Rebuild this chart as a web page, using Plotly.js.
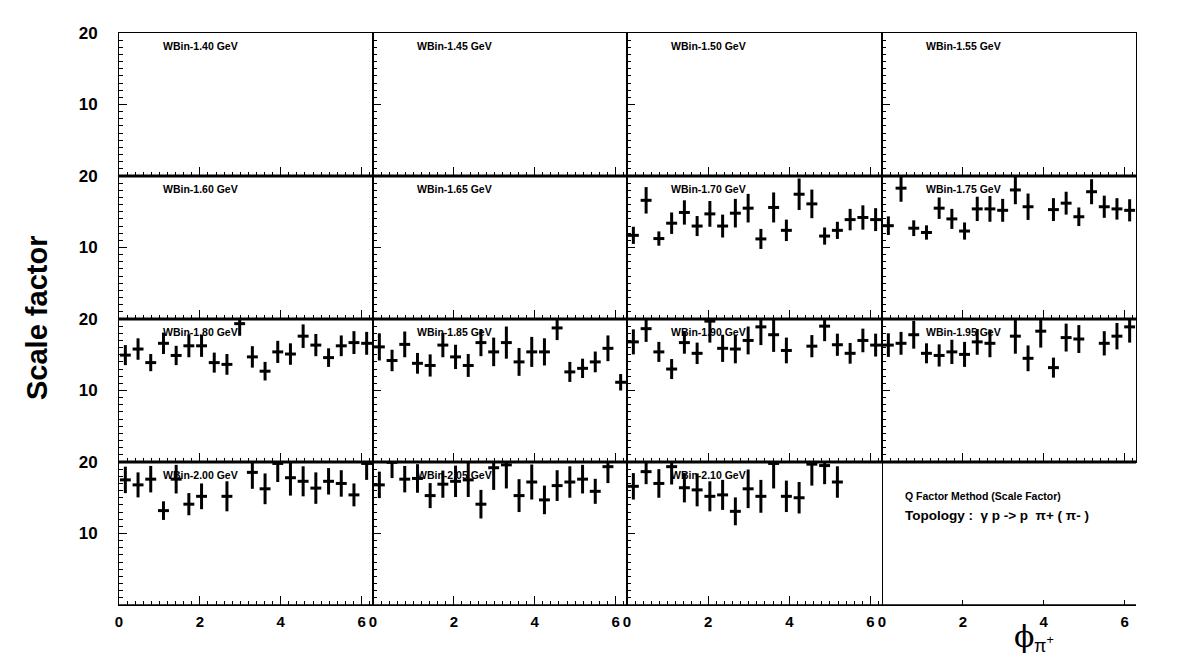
<!DOCTYPE html>
<html><head><meta charset="utf-8">
<script src="https://cdn.plot.ly/plotly-3.0.1.min.js"></script>
<style>html,body{margin:0;padding:0;background:#fff}#chart{width:1196px;height:672px}</style>
</head><body><div id="chart"></div>
<script>
// phi bin centres (20 bins over 0..2pi)
const phiBins = [0.157,0.471,0.785,1.100,1.414,1.728,2.042,2.356,2.670,2.985,3.299,3.613,3.927,4.241,4.555,4.869,5.184,5.498,5.812,6.126];
const wBinLabels = ['1.40','1.45','1.50','1.55','1.60','1.65','1.70','1.75','1.80','1.85','1.90','1.95','2.00','2.05','2.10'];
const xTickVals = [0,2,4,6];
const yTickVals = [10,20];

const sf170 = [11.7,16.6,11.25,13.4,14.9,13.0,14.7,13.0,14.8,15.5,11.2,15.6,12.4,17.45,16.1,11.6,12.4,13.9,14.2,13.9];
const er170 = [1.2,1.85,1.0,1.5,1.7,1.4,1.8,1.6,2.0,2.0,1.4,2.1,1.5,2.2,2.0,1.2,1.2,1.5,1.7,1.6];
const sf175 = [13.05,18.3,12.7,12.1,15.5,14.0,12.3,15.4,15.4,15.2,18.05,15.7,null,15.3,16.2,14.3,17.8,15.7,15.4,15.2];
const er175 = [1.3,1.9,1.1,1.0,1.5,1.4,1.2,1.7,1.8,1.6,2.0,1.85,null,1.6,1.6,1.3,1.75,1.55,1.5,1.55];
const sf180 = [14.95,15.8,13.9,16.6,14.9,16.25,16.25,13.9,13.65,19.35,14.7,12.7,15.4,15.1,17.6,16.35,14.6,16.25,16.7,16.6];
const er180 = [1.4,1.5,1.2,1.5,1.35,1.6,1.55,1.4,1.45,1.7,1.5,1.3,1.55,1.5,1.65,1.55,1.3,1.45,1.6,1.6];
const sf185 = [16.1,14.2,16.45,13.8,13.5,16.35,14.7,13.5,16.7,15.4,16.7,14.0,15.4,15.4,18.75,12.6,13.1,14.0,15.9,11.15];
const er185 = [1.9,1.5,1.8,1.45,1.55,1.7,1.7,1.6,1.9,2.0,2.25,1.95,2.1,1.9,1.7,1.4,1.35,1.45,1.8,1.15];
const sf190 = [16.8,18.65,15.4,13.0,16.7,15.2,19.7,15.9,15.8,17.0,18.9,17.8,15.6,null,16.2,19.0,16.4,15.2,17.0,16.35];
const er190 = [1.75,1.85,1.4,1.4,1.55,1.5,3.0,1.9,2.0,1.95,2.55,2.4,1.8,null,1.55,2.1,1.55,1.45,1.65,1.6];
const sf195 = [16.35,16.6,17.8,15.2,14.9,15.4,15.05,16.8,16.6,null,17.6,14.5,18.3,13.2,17.4,17.2,null,16.6,17.6,18.9];
const er195 = [1.65,1.6,1.95,1.4,1.55,1.7,1.75,1.8,1.95,null,2.45,1.8,2.3,1.4,1.95,1.95,null,1.7,1.85,2.2];
const sf200 = [17.5,16.8,17.6,13.2,17.6,14.1,15.2,null,15.2,null,18.55,16.25,19.8,17.8,17.3,16.35,17.3,17.0,15.4,19.8];
const er200 = [1.85,1.75,1.85,1.3,2.0,1.55,1.8,null,2.1,null,2.3,2.15,2.6,2.5,2.1,2.2,1.85,1.85,1.6,2.3];
const sf205 = [16.8,19.95,17.6,17.7,15.3,16.9,17.3,17.5,14.1,19.2,19.6,15.3,17.2,14.7,16.7,17.2,17.6,15.9,19.35,null];
const er205 = [1.85,2.2,1.85,2.0,1.75,1.9,2.2,2.4,2.0,3.1,3.3,2.3,2.45,2.0,2.15,2.2,2.0,1.75,2.3,null];
const sf210 = [16.6,18.65,17.0,19.35,16.4,16.1,15.2,15.4,13.1,16.25,15.2,19.8,15.2,15.0,19.7,19.5,17.2,null,null,null];
const er210 = [1.85,1.75,2.0,2.5,2.05,2.3,2.1,2.1,1.95,2.7,2.3,3.5,2.2,2.2,3.0,2.6,2.2,null,null,null];

const seriesByBin = {
  '1.70':[sf170,er170],'1.75':[sf175,er175],'1.80':[sf180,er180],'1.85':[sf185,er185],
  '1.90':[sf190,er190],'1.95':[sf195,er195],'2.00':[sf200,er200],'2.05':[sf205,er205],'2.10':[sf210,er210]
};

const W = 1196, H = 672;
const colL = [119,373,627,882], colR = [373,627,882,1136];
const rowT = [33,176,319,462], rowB = [176,319,462,605];
const px = v => v / W, py = v => 1 - v / H;
const halfBinDraw = 0.135;
const FONT = 'Liberation Sans, Arial, sans-serif';

const traces = [];
const layout = {
  width: W, height: H, margin: {l:0,r:0,t:0,b:0},
  paper_bgcolor: '#fff', plot_bgcolor: 'rgba(0,0,0,0)', showlegend: false,
  annotations: [], shapes: []
};

for (let i = 0; i < 16; i++) {
  const r = Math.floor(i / 4), c = i % 4;
  const n = i + 1, sx = n === 1 ? '' : String(n);
  const isPanel = i < 15;
  const bottomRow = (r === 3);
  layout['xaxis' + sx] = {
    domain: [px(colL[c]), px(colR[c])], anchor: 'y' + sx, range: [0, 2 * Math.PI],
    showgrid: false, zeroline: false, showline: true, linecolor: '#000', linewidth: 1,
    mirror: isPanel, ticks: 'inside', tickvals: xTickVals, ticklen: isPanel ? 9 : 5, tickwidth: 1, tickcolor: '#000',
    minor: isPanel ? {ticks: 'inside', dtick: 0.2, ticklen: 4, tickcolor: '#000', tickwidth: 1} : {ticks: ''},
    showticklabels: bottomRow, ticklabelstandoff: 3,
    tickfont: {family: 'Liberation Sans Narrow, ' + FONT, size: 15, color: '#000', weight: 'bold'}
  };
  layout['yaxis' + sx] = {
    domain: [py(rowB[r]), py(rowT[r])], anchor: 'x' + sx, range: [0, 20],
    showgrid: false, zeroline: false, showline: isPanel, linecolor: '#000', linewidth: 1, mirror: isPanel,
    ticks: isPanel ? 'inside' : '', tickvals: yTickVals, ticklen: 8, tickwidth: 1, tickcolor: '#000',
    minor: isPanel ? {ticks: 'inside', dtick: 1, ticklen: 4, tickcolor: '#000', tickwidth: 1} : {ticks: ''},
    showticklabels: c === 0, ticklabelstandoff: 17,
    tickfont: {family: FONT, size: 17, color: '#000', weight: 'bold'}
  };
  const lbl = isPanel ? wBinLabels[i] : null;
  if (isPanel) {
    layout.annotations.push({
      xref: 'paper', yref: 'paper', x: px(colL[c] + 42), y: py(rowT[r] + 13),
      xanchor: 'left', yanchor: 'middle', showarrow: false,
      text: 'WBin-' + lbl + ' GeV', font: {family: FONT, size: 10.5, color: '#000', weight: 'bold'}
    });
  }
  const d = lbl ? seriesByBin[lbl] : null;
  traces.push({
    type: 'scatter', mode: 'markers', xaxis: 'x' + sx, yaxis: 'y' + sx,
    x: d ? phiBins : [], y: d ? d[0] : [], marker: {size: 1, color: '#000'},
    error_y: {type: 'data', array: d ? d[1] : [], visible: true, color: '#000', thickness: 3, width: 0},
    error_x: {type: 'constant', value: halfBinDraw, visible: true, color: '#000', thickness: 3, width: 0},
    hoverinfo: 'skip'
  });
}

// thick row separators and bottom axis
[176, 319, 462].forEach(y => layout.shapes.push({type: 'line', xref: 'paper', yref: 'paper',
  x0: px(119), x1: px(1136), y0: py(y), y1: py(y), line: {color: '#000', width: 3}}));
layout.shapes.push({type: 'line', xref: 'paper', yref: 'paper', x0: px(119), x1: px(1136), y0: py(605), y1: py(605), line: {color: '#000', width: 1.5}});

layout.annotations.push(
  {xref:'paper', yref:'paper', x: px(37), y: py(318), xanchor: 'center', yanchor: 'middle', textangle: -90, showarrow: false,
   text: 'Scale factor', font: {family: FONT, size: 29, color: '#000', weight: 'bold'}},
  {xref:'paper', yref:'paper', x: px(1024), y: py(636), xanchor: 'center', yanchor: 'middle', showarrow: false,
   text: 'ϕ', font: {family: 'DejaVu Serif, serif', size: 30, color: '#000'}},
  {xref:'paper', yref:'paper', x: px(1032), y: py(644), xanchor: 'left', yanchor: 'middle', showarrow: false,
   text: 'π<sup>+</sup>', font: {family: FONT, size: 18, color: '#000'}},
  {xref:'paper', yref:'paper', x: px(903), y: py(496), xanchor: 'left', yanchor: 'middle', showarrow: false,
   text: 'Q Factor Method (Scale Factor)', font: {family: FONT, size: 10.5, color: '#000', weight: 'bold'}},
  {xref:'paper', yref:'paper', x: px(903), y: py(515), xanchor: 'left', yanchor: 'middle', showarrow: false,
   text: 'Topology :  γ p -> p  π+ ( π- )', font: {family: FONT, size: 13.5, color: '#000', weight: 'bold'}}
);

Plotly.newPlot('chart', traces, layout, {displayModeBar: false, staticPlot: true});
</script>
</body></html>
